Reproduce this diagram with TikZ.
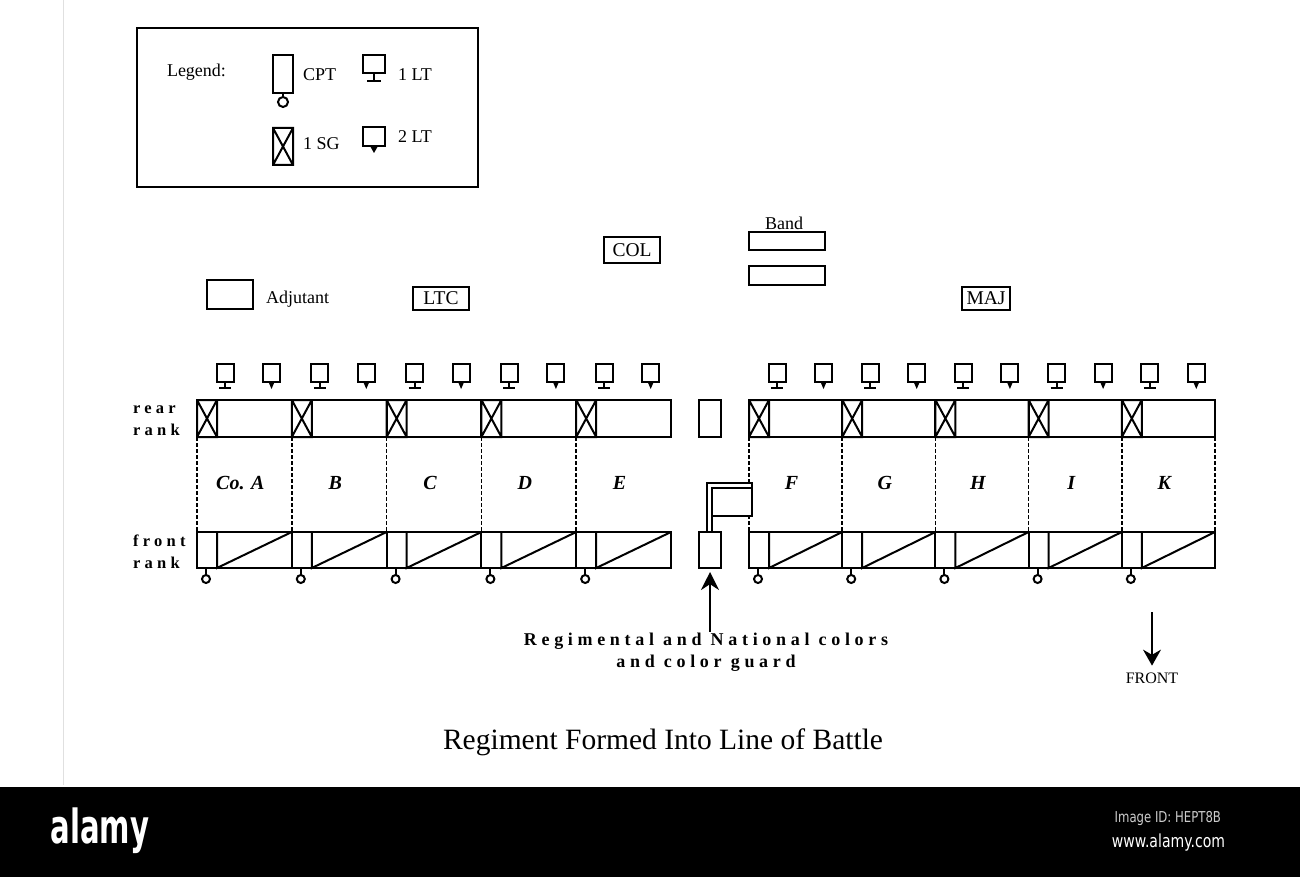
\documentclass[tikz,border=0pt]{standalone}
\usepackage{fontspec}
\setmainfont{Liberation Serif}
\newfontfamily\spacedfont[LetterSpace=26]{Liberation Serif}
\newfontfamily\wmfont[FakeStretch=0.62]{DejaVu Sans}
\newfontfamily\wmsmall[FakeStretch=0.78]{DejaVu Sans}
\usetikzlibrary{arrows.meta}

\tikzset{
  lbl/.style={font=\fontsize{18}{20}\selectfont, inner sep=0pt},
  offbox/.style={draw, line width=2pt, fill=white, inner sep=0pt, font=\fontsize{19.5}{20}\selectfont},
  cotext/.style={font=\fontsize{20}{22}\selectfont\bfseries\itshape, inner sep=0pt},
  ranktext/.style={font=\fontsize{16.5}{22}\selectfont\spacedfont\bfseries, inner sep=0pt, align=left},
  gap/.style={line width=1.5pt, dash pattern=on 4pt off 2pt}
}

% one company: left edge, width, label
\newcommand{\drawcompany}[3]{%
  \begin{scope}[xshift=#1pt]
    % officers
    \draw (19.5,364) rectangle (36.5,382);
    \draw (28,382) -- (28,388) (22,388) -- (34,388);
    \draw (66,364) rectangle (83,382);
    \fill (71.5,382) -- (77.5,382) -- (74.5,389) -- cycle;
    % rear rank
    \draw (0,400) rectangle (#2,437);
    \draw (0,400) rectangle (20,437) (0,400) -- (20,437) (20,400) -- (0,437);
    \draw[gap] (0,437) -- (0,532);
    % front rank
    \draw (0,532) rectangle (#2,568);
    \draw (20,532) -- (20,568) -- (#2,532);
    \draw (9,568) -- (9,575);
    \draw (9,579) circle (4);
    \node[cotext] at ({#2/2-4},483) {#3};
  \end{scope}}

\begin{document}
\begin{tikzpicture}[x=1pt, y=-1pt, >=Stealth, line width=2pt]
\useasboundingbox (0,0) rectangle (1300,877);
\fill[white] (0,0) rectangle (1300,877);
\draw[black!12, line width=1pt] (63,0) -- (63,785);

% Legend
\draw[line width=2pt] (137,28) rectangle (478,187);
\node[lbl, anchor=west] (legend) at (166,72) {Legend:};
\draw (273,55) rectangle (293,93) (283,93) -- (283,97);
\draw (283,102) circle (5);
\node[lbl, anchor=west] (cptlbl) at (302,75) {CPT};
\draw (363,55) rectangle (385,73) (374,73) -- (374,81) (367,81) -- (381,81);
\node[lbl, anchor=west] (ltonelbl) at (397,75) {1 LT};
\draw (273,128) rectangle (293,165) (273,128) -- (293,165) (293,128) -- (273,165);
\node[lbl, anchor=west] (sglbl) at (302,144) {1 SG};
\draw (363,127) rectangle (385,146);
\fill (370,146) -- (378,146) -- (374,153) -- cycle;
\node[lbl, anchor=west] (lttwolbl) at (397,137) {2 LT};

% Field and staff
\node[offbox, minimum width=56, minimum height=26] (col) at (632,250) {COL};
\node[offbox, minimum width=56, minimum height=23] (ltc) at (441,298.5) {LTC};
\node[offbox, minimum width=48, minimum height=23] (maj) at (986,298.5) {MAJ};
\node[offbox, minimum width=46, minimum height=29] (adj) at (230,294.5) {};
\node[lbl, anchor=west] (adjlbl) at (265,299) {Adjutant};
\node[offbox, minimum width=76, minimum height=18] (bandone) at (787,241) {};
\node[offbox, minimum width=76, minimum height=19] (bandtwo) at (787,275.5) {};
\node[lbl] (bandlbl) at (784,223) {Band};

% Rank names
\node[ranktext, anchor=west] (rearlbl) at (132,421) {rear\\rank};
\node[ranktext, anchor=west] (frontlbl) at (132,552) {front\\rank};

% Companies
\drawcompany{197}{94.8}{Co. A}
\drawcompany{291.8}{94.8}{B}
\drawcompany{386.6}{94.8}{C}
\drawcompany{481.4}{94.8}{D}
\drawcompany{576.2}{94.8}{E}
\drawcompany{749}{93.2}{F}
\drawcompany{842.2}{93.2}{G}
\drawcompany{935.4}{93.2}{H}
\drawcompany{1028.6}{93.2}{I}
\drawcompany{1121.8}{93.2}{K}
\draw[gap] (1215,437) -- (1215,532);

% Colors and color guard
\node[offbox, minimum width=22, minimum height=37] (colr) at (710,418.5) {};
\node[offbox, minimum width=22, minimum height=36] (colf) at (710,550) {};
\draw[fill=white] (707,532) -- (707,483) -- (752,483) -- (752,516) -- (712,516) -- (712,532) -- cycle;
\draw (712,516) -- (712,488) -- (752,488);
\node[ranktext, align=center, font=\fontsize{18}{22}\selectfont\spacedfont\bfseries] (colorsnote) at (706,652)
  {Regimental and National colors\\and color guard};
\draw[{Stealth[length=18pt, width=18pt]}-, line width=2pt, shorten <=3pt] (colf.south) -- (colorsnote.north -| colf.south);

% Direction
\coordinate (frontstart) at (1152,612);
\node[lbl, font=\fontsize{16}{18}\selectfont] (frontlbl2) at (1152,678) {FRONT};
\draw[-{Stealth[length=16pt, width=18pt]}, line width=1.5pt] (frontstart) -- ([yshift=6pt]frontlbl2.north);

% Title
\node[lbl, font=\fontsize{29.5}{32}\selectfont] (title) at (663,742) {Regiment Formed Into Line of Battle};

% Stock bar
\fill[black] (0,787) rectangle (1300,877);
\node[inner sep=0pt, white, font=\fontsize{47}{47}\selectfont\wmfont\bfseries] (alamy) at (100,831) {alamy};
\node[inner sep=0pt, black!20, anchor=east, font=\fontsize{15}{16}\selectfont\wmsmall] (imgid) at (1222,818) {Image ID: HEPT8B};
\node[inner sep=0pt, white, anchor=east, font=\fontsize{18}{20}\selectfont\wmsmall] (site) at (1226,843) {www.alamy.com};
\end{tikzpicture}
\end{document}
